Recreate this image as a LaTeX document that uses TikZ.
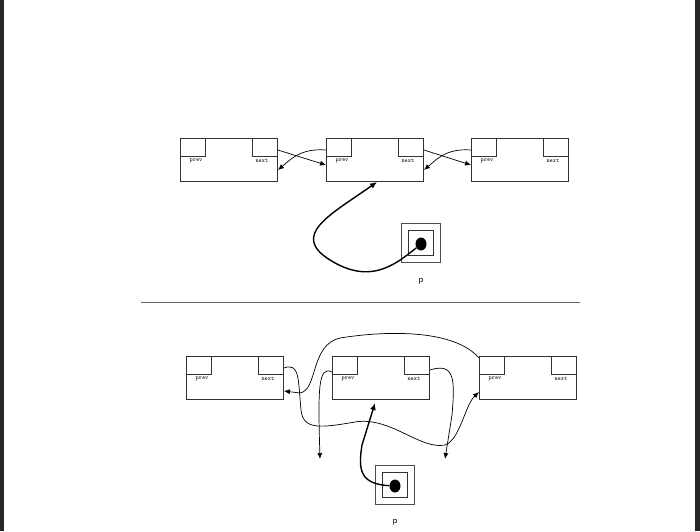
\documentclass[tikz,border=0pt]{standalone}
\usetikzlibrary{arrows.meta,shapes.geometric}
\begin{document}
\begin{tikzpicture}[x=1pt,y=-1pt,
  rec/.style={draw=black!80,line width=0.9pt,fill=white,minimum width=97pt,minimum height=43pt,inner sep=0pt,anchor=north west},
  sq/.style={draw=black!80,line width=0.8pt,minimum width=25pt,minimum height=18pt,inner sep=0pt,anchor=north west},
  lab/.style={font=\ttfamily\fontsize{6}{6}\selectfont,inner sep=0pt},
  ar/.style={-{Latex[length=6pt,width=5pt]},line width=0.7pt},
  pr/.style={-{Latex[length=7pt,width=6pt]},line width=1.4pt}]
\useasboundingbox (0,0) rectangle (700,531);
\fill[black!85] (0,0) rectangle (4,531);
\fill[black!85] (695,0) rectangle (700,531);
\foreach \n/\x/\y in {a/180/138,b/326/138,c/471/138,d/186/356,e/332/356,f/479/356}{
  \node[rec] (\n) at (\x,\y) {};
  \node[sq] (\n l) at (\n.north west) {};
  \node[sq,anchor=north east] (\n r) at (\n.north east) {};
  \node[lab] (\n p) at ([xshift=16pt,yshift=-23pt]\n.north west) {prev};
  \node[lab] (\n n) at ([xshift=-16pt,yshift=-23pt]\n.north east) {next};
}
% top pointer
\node[draw=black!70,line width=0.8pt,minimum size=39pt,inner sep=0pt] (pt) at (421,243) {};
\node[draw=black!80,line width=0.8pt,minimum size=25pt,inner sep=0pt] (pti) at (pt) {};
\node[fill=black,ellipse,minimum width=11pt,minimum height=13pt,inner sep=0pt] (ptd) at (421,244) {};
\node[font=\sffamily\small] (ptp) at (421,281) {p};
\draw[black!60,line width=1pt] (141,302) -- (580,302);
% top arrows
\draw[ar] (a.east|-0,150) -- (b.west|-0,165);
\draw[ar] (b.west|-0,150) .. controls (300,148) and (290,160) .. (a.east|-0,170);
\draw[ar] (b.east|-0,150) -- (c.west|-0,165);
\draw[ar] (c.west|-0,150) .. controls (446,148) and (436,160) .. (b.east|-0,170);
\draw[pr] (ptd) .. controls (395,265) and (370,285) .. (330,260) .. controls (290,235) and (330,215) .. (377,182);
% bottom pointer
\node[draw=black!70,line width=0.8pt,minimum size=39pt,inner sep=0pt] (pb) at (395,485) {};
\node[draw=black!80,line width=0.8pt,minimum size=25pt,inner sep=0pt] (pbi) at (pb) {};
\node[fill=black,ellipse,minimum width=11pt,minimum height=13pt,inner sep=0pt] (pbd) at (395,486) {};
\node[font=\sffamily\small] (pbp) at (395,522) {p};
\coordinate (e1) at (320,459);
\coordinate (e2) at (445,459);
% bottom arrows
\draw[ar] (d.east|-0,368) .. controls (300,362) and (298,380) .. (301,410)
  .. controls (303,430) and (320,428) .. (355,422)
  .. controls (390,416) and (420,450) .. (445,445)
  .. controls (460,440) and (465,405) .. (f.west|-0,392);
\draw[ar] (f.west|-0,358) .. controls (455,330) and (390,330) .. (340,338)
  .. controls (310,345) and (318,390) .. (300,393) -- (d.east|-0,391);
\draw[ar] (e.west|-0,372) .. controls (318,365) and (318,390) .. (e1);
\draw[ar] (e.east|-0,370) .. controls (455,362) and (455,380) .. (452,415) -- (e2);
\draw[pr] (pbd) .. controls (360,484) and (358,470) .. (362,445) -- (375,403);
\end{tikzpicture}
\end{document}
